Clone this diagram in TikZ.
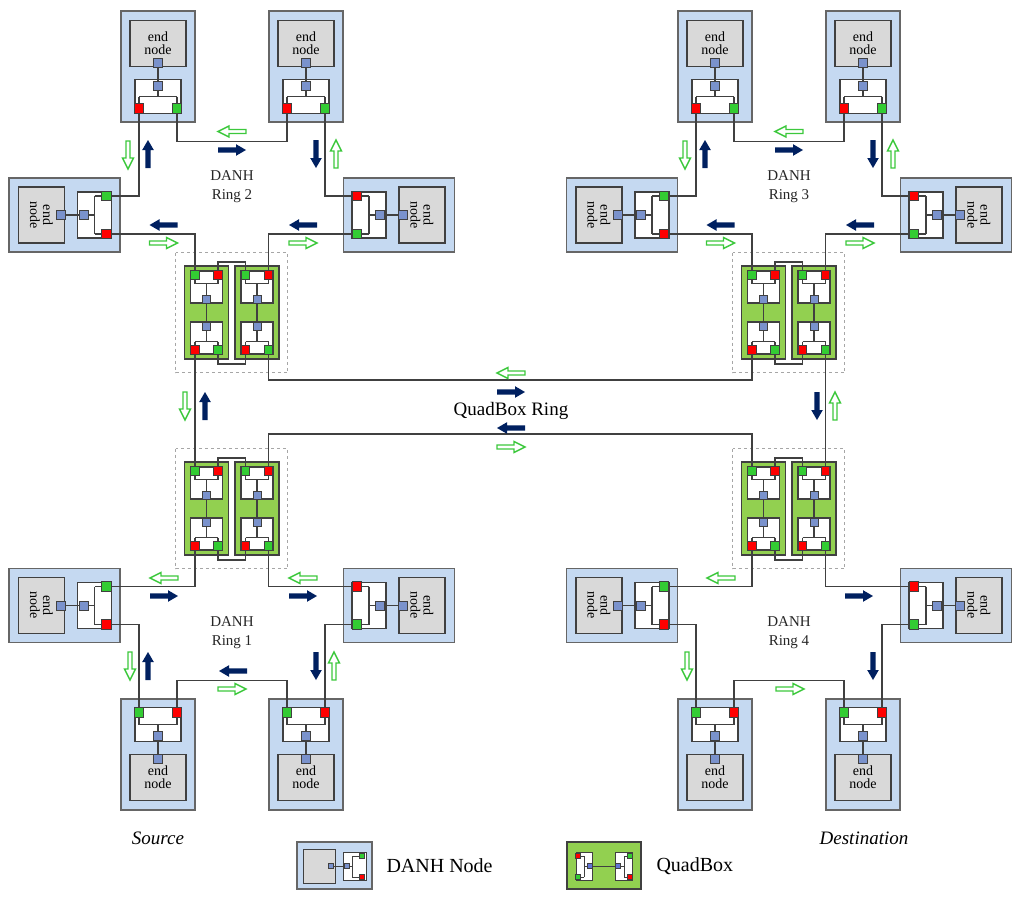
\documentclass[tikz,border=0pt]{standalone}
\usepackage{fontspec}
\setmainfont{Liberation Serif}
\pgfdeclarelayer{bg}\pgfdeclarelayer{mid}
\pgfsetlayers{bg,mid,main}
\definecolor{dblue}{RGB}{197,217,241}
\definecolor{egray}{RGB}{217,217,217}
\definecolor{pblue}{RGB}{122,146,204}
\definecolor{pred}{RGB}{255,0,0}
\definecolor{pgreen}{RGB}{51,204,51}
\definecolor{qgreen}{RGB}{146,208,80}
\definecolor{navy}{RGB}{0,32,96}
\definecolor{lgreen}{RGB}{60,200,60}
\definecolor{wirec}{RGB}{64,64,64}
\tikzset{
 dbox/.style={fill=dblue,draw=wirec!80,line width=1.3pt},
 ebox/.style={fill=egray,draw=wirec,line width=1.1pt},
 wbox/.style={fill=white,draw=wirec,line width=1.1pt},
 qbox/.style={fill=qgreen,draw=wirec,line width=1.1pt},
 wire/.style={draw=wirec,line width=1.1pt},
 port/.style={draw=wirec,line width=0.6pt,minimum size=#1,inner sep=0pt,outer sep=0pt},
 rp/.style={port=9.5pt,fill=pred},
 gp/.style={port=9.5pt,fill=pgreen},
 bp/.style={port=9pt,fill=pblue},
 qrp/.style={port=8.5pt,fill=pred},
 qgp/.style={port=8.5pt,fill=pgreen},
 qbp/.style={port=8pt,fill=pblue},
 etext/.style={align=center,font=\fontsize{14}{13}\selectfont,inner sep=0pt},
 rtext/.style={align=center,font=\fontsize{15}{19}\selectfont,text=black!85},
 pics/harr/.style={code={\draw[lgreen,line width=1.4pt,fill=white] (-14,-2) -- (3,-2) -- (3,-5.5) -- (14,0) -- (3,5.5) -- (3,2) -- (-14,2) -- cycle;}},
 pics/narr/.style={code={\fill[navy] (-14,-2.6) -- (4,-2.6) -- (4,-5.8) -- (14,0) -- (4,5.8) -- (4,2.6) -- (-14,2.6) -- cycle;}},
}
\newcommand\danh[5]{%
\begin{scope}[shift={(#2,#3)},rotate=#4]
 \begin{pgfonlayer}{bg}
 \draw[dbox] (-37,-55.5) rectangle (37,55.5);
 \draw[ebox] (-28,-46) rectangle (28,0);
 \draw[wbox] (-23,13) rectangle (23,47);
 \draw[wire] (0,-4) -- (0,19) (0,23) -- (0,30) (-19,30) -- (19,30) (-19,30) -- (-19,42) (19,30) -- (19,42);
 \end{pgfonlayer}
 \node[etext,rotate=#5] (#1t) at (0,-23) {end\\node};
 \node[bp] (#1e) at (0,-4) {};
 \node[bp] (#1b) at (0,19) {};
 \node[rp] (#1r) at (-19,42) {};
 \node[gp] (#1g) at (19,42) {};
\end{scope}}
\newcommand\qbh[3]{%
\begin{scope}[shift={(#2,#3)}]
 \begin{pgfonlayer}{bg}
 \draw[qbox] (-22,-46.5) rectangle (22,46.5);
 \draw[wbox] (-16,-41.5) rectangle (16,-9.5);
 \draw[wbox] (-16,9.5) rectangle (16,41.5);
 \draw[wire] (0,-13.5) -- (0,13.5) (0,-13.5) -- (0,-29) (-11.5,-29) -- (11.5,-29) (-11.5,-29) -- (-11.5,-37.5) (11.5,-29) -- (11.5,-37.5)
   (0,13.5) -- (0,29) (-11.5,29) -- (11.5,29) (-11.5,29) -- (-11.5,37.5) (11.5,29) -- (11.5,37.5);
 \end{pgfonlayer}
 \node[qgp] (#1tg) at (-11.5,-37.5) {};
 \node[qrp] (#1tr) at (11.5,-37.5) {};
 \node[qbp] (#1tb) at (0,-13.5) {};
 \node[qbp] (#1bb) at (0,13.5) {};
 \node[qrp] (#1br) at (-11.5,37.5) {};
 \node[qgp] (#1bg) at (11.5,37.5) {};
\end{scope}}
\newcommand\qbpair[4]{% name, xleft, xright, y
 \qbh{#1L}{#2}{#4}\qbh{#1R}{#3}{#4}
 \begin{pgfonlayer}{bg}
 \draw[gray!70,dashed,line width=0.8pt] ({(#2+#3)/2-56},{#4-60}) rectangle ({(#2+#3)/2+56},{#4+60});
 \end{pgfonlayer}
 \begin{pgfonlayer}{mid}
 \draw[wire] (#1Ltr.center) -- ++(0,-13) -| (#1Rtg.center);
 \draw[wire] (#1Lbg.center) -- ++(0,14) -| (#1Rbr.center);
 \end{pgfonlayer}}
\begin{document}
\begin{tikzpicture}[x=1pt,y=-1pt]
\useasboundingbox (0,0) rectangle (1024,899);
% Ring 2
\danh{2A}{158}{66.5}{0}{0}\danh{2B}{306}{66.5}{0}{0}
\danh{2L}{64.5}{215}{90}{-90}\danh{2R}{399}{215}{-90}{-90}
% Ring 3
\danh{3A}{715}{66.5}{0}{0}\danh{3B}{863}{66.5}{0}{0}
\danh{3L}{622}{215}{90}{-90}\danh{3R}{956}{215}{-90}{-90}
% Ring 1
\danh{1A}{158}{754.5}{180}{0}\danh{1B}{306}{754.5}{180}{0}
\danh{1L}{64.5}{605.5}{90}{-90}\danh{1R}{399}{605.5}{-90}{-90}
% Ring 4
\danh{4A}{715}{754.5}{180}{0}\danh{4B}{863}{754.5}{180}{0}
\danh{4L}{622}{605.5}{90}{-90}\danh{4R}{956}{605.5}{-90}{-90}
% QuadBoxes
\qbpair{q2}{206.5}{257}{312.5}
\qbpair{q3}{763.5}{814}{312.5}
\qbpair{q1}{206.5}{257}{508.5}
\qbpair{q4}{763.5}{814}{508.5}
\begin{pgfonlayer}{mid}
\foreach \r in {2,3}{
 \draw[wire] (\r Ar.center) |- (\r Lg.center);
 \draw[wire] (\r Ag.center) -- ++(0,33) -| (\r Br.center);
 \draw[wire] (\r Bg.center) |- (\r Rr.center);
 \draw[wire] (\r Lr.center) -| (q\r Ltg.center);
 \draw[wire] (\r Rg.center) -| (q\r Rtr.center);
}
\foreach \r in {1,4}{
 \draw[wire] (\r Lg.center) -| (q\r Lbr.center);
 \draw[wire] (\r Rr.center) -| (q\r Rbg.center);
 \draw[wire] (\r Lr.center) -| (\r Ag.center);
 \draw[wire] (\r Ar.center) -- ++(0,-32) -| (\r Bg.center);
 \draw[wire] (\r Br.center) |- (\r Rg.center);
}
\draw[wire] (q2Lbr.center) -- (q1Ltg.center);
\draw[wire] (q2Rbg.center) -- ++(0,30) -| (q3Lbr.center);
\draw[wire] (q1Rtr.center) -- ++(0,-37) -| (q4Ltg.center);
\draw[wire] (q3Rbg.center) -- (q4Rtr.center);
\end{pgfonlayer}
% arrows rings 2 and 3
\foreach \dx in {0,557}{
 \pic[rotate=-90] at (128+\dx,155) {harr}; \pic[rotate=90] at (148+\dx,154) {narr};
 \pic[rotate=180] at (232+\dx,131.5) {harr}; \pic at (232+\dx,150) {narr};
 \pic[rotate=-90] at (316+\dx,154) {narr}; \pic[rotate=90] at (336+\dx,154) {harr};
 \pic[rotate=180] at (163.5+\dx,225) {narr}; \pic at (163.5+\dx,243) {harr};
 \pic[rotate=180] at (303+\dx,225) {narr}; \pic at (303+\dx,243) {harr};
}
% ring 1
\pic[rotate=180] at (164,578) {harr}; \pic at (164,596) {narr};
\pic[rotate=180] at (303,578) {harr}; \pic at (303,596) {narr};
\pic[rotate=-90] at (130,666) {harr}; \pic[rotate=90] at (148,666) {narr};
\pic[rotate=180] at (233,671) {narr}; \pic at (232,689) {harr};
\pic[rotate=-90] at (316,666) {narr}; \pic[rotate=90] at (334,666) {harr};
% ring 4
\pic[rotate=180] at (721,578) {harr};
\pic at (859,596) {narr};
\pic[rotate=-90] at (687,666) {harr};
\pic at (790,689) {harr};
\pic[rotate=-90] at (873,666) {narr};
% quadbox ring
\pic[rotate=180] at (511,373) {harr}; \pic at (511,392) {narr};
\pic[rotate=180] at (511,428) {narr}; \pic at (511,447) {harr};
\pic[rotate=-90] at (185,406) {harr}; \pic[rotate=90] at (205,406) {narr};
\pic[rotate=-90] at (817,406) {narr}; \pic[rotate=90] at (835,406) {harr};
% labels
\node[rtext] (l2) at (232,187) {DANH\\Ring 2};
\node[rtext] (l3) at (789,187) {DANH\\Ring 3};
\node[rtext] (l1) at (232,633) {DANH\\Ring 1};
\node[rtext] (l4) at (789,633) {DANH\\Ring 4};
\node[font=\fontsize{19}{19}\selectfont] (lq) at (511,411) {QuadBox Ring};
\node[font=\fontsize{19}{19}\itshape] (src) at (158,838) {Source};
\node[font=\fontsize{19}{19}\itshape] (dst) at (864,838) {Destination};
% legend DANH node
\draw[dbox] (297,842) rectangle (372,889);
\draw[ebox,line width=0.8pt] (303,849) rectangle (335,883);
\draw[wbox,line width=0.8pt] (343,852) rectangle (366,880);
\draw[wire,line width=0.8pt] (331,866) -- (347,866) (347,866) -- (352,866) (352,856) -- (352,877) (352,856) -- (362,856) (352,877) -- (362,877);
\node[port=5pt,fill=pblue] (ld1) at (331,866) {};
\node[port=5pt,fill=pblue] (ld2) at (347,866) {};
\node[port=5.5pt,fill=pgreen] (ld3) at (362,856) {};
\node[port=5.5pt,fill=pred] (ld4) at (362,877) {};
\node[anchor=west,font=\fontsize{20}{20}\selectfont] (ldt) at (383,866) {DANH Node};
% legend QuadBox
\draw[qbox] (567,842) rectangle (641,889);
\draw[wbox,line width=0.8pt] (576,852) rectangle (592,880);
\draw[wbox,line width=0.8pt] (615,852) rectangle (632,880);
\draw[wire,line width=0.8pt] (590,866) -- (618,866) (590,866) -- (584,866) (584,856) -- (584,877) (584,856) -- (578,856) (584,877) -- (578,877)
  (618,866) -- (624,866) (624,856) -- (624,877) (624,856) -- (630,856) (624,877) -- (630,877);
\node[port=5pt,fill=pblue!80!blue] (lq1) at (590,866) {};
\node[port=5pt,fill=pblue!80!blue] (lq2) at (618,866) {};
\node[port=5pt,fill=pred] (lq3) at (578,856) {};
\node[port=5pt,fill=pgreen] (lq4) at (578,877) {};
\node[port=5pt,fill=pgreen] (lq5) at (630,856) {};
\node[port=5pt,fill=pred] (lq6) at (630,877) {};
\node[anchor=west,font=\fontsize{20}{20}\selectfont] (lqt) at (653,866) {QuadBox};
\end{tikzpicture}
\end{document}
